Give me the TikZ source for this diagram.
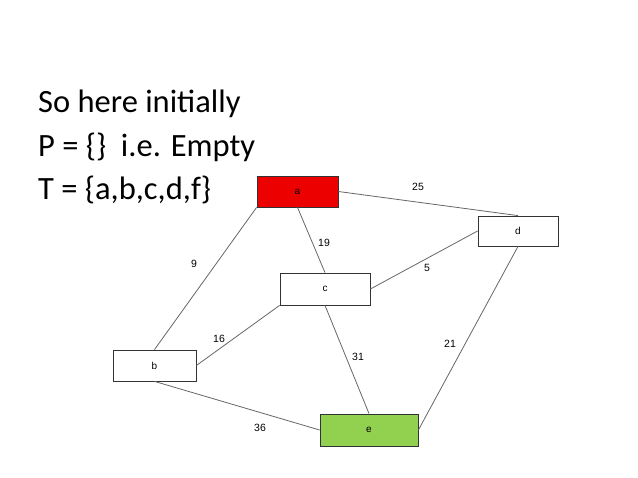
\documentclass[tikz,border=0pt]{standalone}
\usepackage{fontspec}
\setmainfont{Carlito}
\newfontfamily\arialf{Liberation Sans}
\definecolor{nred}{RGB}{237,0,0}
\definecolor{ngreen}{RGB}{146,208,80}
\begin{document}
\begin{tikzpicture}[x=1pt,y=-1pt,
  box/.style={draw=black!80,line width=0.8pt,inner sep=0pt,font=\arialf\fontsize{10}{11}\selectfont},
  edge/.style={draw=black!60,line width=0.8pt},
  lbl/.style={font=\arialf\fontsize{10.5}{12}\selectfont}]
\useasboundingbox (0,0) rectangle (638,478);
\node[box,fill=nred,minimum width=81pt,minimum height=31pt] (a) at (297.5,191.5) {a};
\node[box,fill=white,minimum width=80pt,minimum height=30pt] (d) at (518,231) {d};
\node[box,fill=white,minimum width=90pt,minimum height=32pt] (c) at (325,289) {c};
\node[box,fill=white,minimum width=83pt,minimum height=31pt] (b) at (154.5,365.5) {b};
\node[box,fill=ngreen,minimum width=98pt,minimum height=32pt] (e) at (369,430) {e};
\draw[edge] (a.east) -- (d.north);
\draw[edge] (a.south) -- (c.north);
\draw[edge] (a.south west) -- (b.north);
\draw[edge] (c.east) -- (d.west);
\draw[edge] (c.south west) -- (b.east);
\draw[edge] (c.south) -- (e.north);
\draw[edge] (b.south) -- (e.west);
\draw[edge] (d.south) -- (e.east);
\node[lbl] (l25) at (418,187) {25};
\node[lbl] (l19) at (324,243) {19};
\node[lbl] (l9) at (194,264) {9};
\node[lbl] (l5) at (427,268) {5};
\node[lbl] (l16) at (219,339) {16};
\node[lbl] (l31) at (358,357) {31};
\node[lbl] (l21) at (450,344) {21};
\node[lbl] (l36) at (260,428) {36};
\node[anchor=base west,font=\fontsize{32.5}{36}\selectfont,inner sep=0pt] (t1) at (38,113) {So here initially};
\node[anchor=base west,font=\fontsize{32.5}{36}\selectfont,inner sep=0pt] (t2) at (38,157) {P = \{\}\ \ i.e. Empty};
\node[anchor=base west,font=\fontsize{32.5}{36}\selectfont,inner sep=0pt] (t3) at (38,200) {T = \{a,b,c,d,f\}};
\end{tikzpicture}
\end{document}
